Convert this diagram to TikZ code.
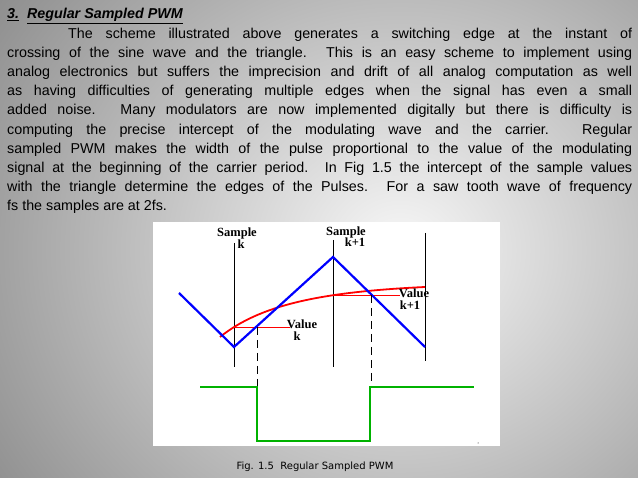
\documentclass[tikz,border=0pt]{standalone}
\usepackage{fontspec}
\setmainfont{Liberation Sans}
\newfontfamily\serifb{Liberation Serif}
\newfontfamily\capfont{DejaVu Sans}
\begin{document}
\begin{tikzpicture}[x=1pt,y=-1pt,
  txt/.style={anchor=base west,inner sep=0pt,font=\fontsize{14.3}{17}\selectfont},
  lab/.style={inner sep=0pt,font=\serifb\bfseries\fontsize{12.5}{13}\selectfont},
  vline/.style={black,line width=0.8pt},
  dline/.style={black,line width=0.8pt,dash pattern=on 8pt off 5pt}]
\useasboundingbox (0,0) rectangle (638,478);
\shade[inner color=white!97!black,outer color=black!45] (-100,-200) rectangle (900,700);
\node[txt,font=\bfseries\itshape\fontsize{14.3}{17}\selectfont] (title) at (7,19) {\underline{3.}\ \ \underline{Regular Sampled PWM}};
\node[txt] (t1) at (68,38.2) {\makebox[564pt][s]{The scheme illustrated above generates a switching edge at the instant of}};
\node[txt] (t2) at (7,57.4) {\makebox[625pt][s]{crossing of the sine wave and the triangle. This is an easy scheme to implement using}};
\node[txt] (t3) at (7,76.6) {\makebox[625pt][s]{analog electronics but suffers the imprecision and drift of all analog computation as well}};
\node[txt] (t4) at (7,95.8) {\makebox[625pt][s]{as having difficulties of generating multiple edges when the signal has even a small}};
\node[txt] (t5) at (7,115) {\makebox[625pt][s]{added noise. Many modulators are now implemented digitally but there is difficulty is}};
\node[txt] (t6) at (7,134.2) {\makebox[625pt][s]{computing the precise intercept of the modulating wave and the carrier. Regular}};
\node[txt] (t7) at (7,153.4) {\makebox[625pt][s]{sampled PWM makes the width of the pulse proportional to the value of the modulating}};
\node[txt] (t8) at (7,172.6) {\makebox[625pt][s]{signal at the beginning of the carrier period. In Fig 1.5 the intercept of the sample values}};
\node[txt] (t9) at (7,191.8) {\makebox[625pt][s]{with the triangle determine the edges of the Pulses. For a saw tooth wave of frequency}};
\node[txt] (t10) at (7,211) {fs the samples are at 2fs.};
% figure
\node[fill=white,minimum width=347pt,minimum height=224pt,inner sep=0pt,anchor=north west] (fig) at (153,222) {};
\coordinate (s1t) at (234,243); \coordinate (s1b) at (234,367);
\coordinate (s2t) at (333,240); \coordinate (s2b) at (333,367);
\coordinate (s3t) at (425,233); \coordinate (s3b) at (425,361);
\draw[vline] (s1t)--(s1b); \draw[vline] (s2t)--(s2b); \draw[vline] (s3t)--(s3b);
\draw[red,line width=0.6pt] (234,327)--(290,327);
\draw[red,line width=0.6pt] (333,295)--(400,295);
\draw[red,line width=1.8pt] (220,337) .. controls (260,305) and (320,292) .. (425,287);
\draw[blue,line width=2.2pt] (179,293)--(234,347)--(333,257)--(425,347);
\draw[dline] (257,327)--(257,390);
\draw[dline] (371,295)--(371,387);
\draw[green!70!black,line width=1.6pt] (200,387)--(257,387)--(257,441)--(370,441)--(370,387)--(474,387);
\node[lab,anchor=base] (l1) at (237,237) {Sample};
\node[lab,anchor=base] (l1k) at (241,249) {k};
\node[lab,anchor=base] (l2) at (346,236) {Sample};
\node[lab,anchor=base] (l2k) at (355,247) {k+1};
\node[lab,anchor=base] (v1) at (302,329) {Value};
\node[lab,anchor=base] (v1k) at (297,341) {k};
\node[lab,anchor=base] (v2) at (414,298) {Value};
\node[lab,anchor=base] (v2k) at (410,310) {k+1};
\fill (478,443) circle (0.5pt);
\node[inner sep=0pt,font=\capfont\fontsize{10}{11}\selectfont] (cap) at (315,467) {Fig. 1.5\ \ Regular Sampled PWM};
\end{tikzpicture}
\end{document}
